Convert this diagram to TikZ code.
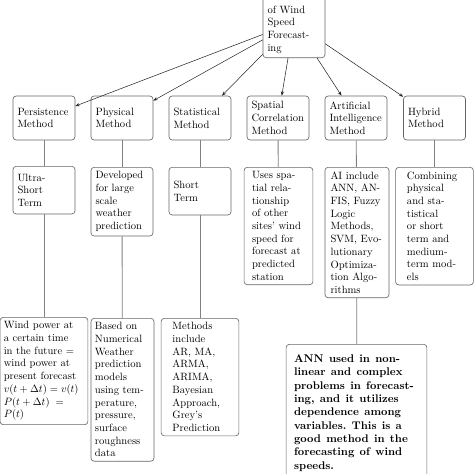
\documentclass[tikz,border=0pt]{standalone}
\usepackage{amsmath}
\usepackage{amssymb}
\usetikzlibrary{arrows.meta}

\tikzset{
  box/.style={draw=gray!80!black, rounded corners=3pt, line width=0.6pt,
    align=left, inner xsep=3pt, inner ysep=4pt, font=\normalsize},
  topbox/.style={box, text width=50pt, minimum width=58.6pt, minimum height=41.6pt},
  midbox/.style={box, text width=50pt, minimum width=58.6pt, minimum height=45pt},
  link/.style={gray, line width=0.8pt},
  arr/.style={-{Stealth[length=4pt,width=3pt]}, gray!30!black, line width=0.5pt}
}

\begin{document}
\begin{tikzpicture}[x=0.945pt,y=-0.945pt]
			\useasboundingbox (0,0) rectangle (474,474);
			\clip (0,0) rectangle (474,474);
			% root, cut off at the top
			\node[box, text width=50pt, minimum width=58.6pt, anchor=south] (root) at (294,58) {\strut\\of Wind\\Speed\\Forecast-\\ing};
			% methods
			\node[topbox] (pers) at (44,118) {Persistence\\Method};
			\node[topbox] (phys) at (122,118) {Physical\\Method};
			\node[topbox] (stat) at (200,118) {Statistical\\Method};
			\node[topbox] (spat) at (278,118) {Spatial\\Correlation\\Method};
			\node[topbox] (ai) at (356,118) {Artificial\\Intelligence\\Method};
			\node[topbox] (hyb) at (434.5,118) {Hybrid\\Method};
			\foreach \m in {pers,phys,stat,spat,ai,hyb}
				\draw[arr] (root) -- (\m);
			% descriptions
			\node[midbox, anchor=north] (ultra) at (44,166) {Ultra-\\Short\\Term};
			\node[midbox, anchor=north] (devel) at (122,167) {Developed\\for large\\scale\\weather\\prediction};
			\node[midbox, anchor=north] (short) at (200,167) {Short\\Term};
			\node[midbox, minimum width=65pt, anchor=north] (uses) at (278.5,167) {Uses spa-\\tial rela-\\tionship\\of other\\sites' wind\\speed for\\forecast at\\predicted\\station};
			\node[midbox, minimum width=60.5pt, anchor=north] (aiinc) at (357,167) {AI include\\ANN, AN-\\FIS, Fuzzy\\Logic\\Methods,\\SVM, Evo-\\lutionary\\Optimiza-\\tion Algo-\\rithms};
			\node[midbox, text width=52pt, minimum width=73.5pt, anchor=north] (comb) at (434.5,167) {Combining\\physical\\and sta-\\tistical\\or short\\term and\\medium-\\term mod-\\els};
			\draw[link] (pers) -- (ultra);
			\draw[link] (phys) -- (devel);
			\draw[link] (stat) -- (short);
			\draw[link] (spat) -- (uses);
			\draw[link] (ai) -- (aiinc);
			\draw[link] (hyb) -- (comb);
			% details
			\node[box, text width=76pt, minimum width=83pt, anchor=north] (wind) at (44,317) {Wind power at\\a certain time\\in the future =\\wind power at\\present forecast\\$v(t+\Delta t)=v(t)$\\$P(t+\Delta t)\;=$\\$P(t)$};
			\node[box, text width=52pt, minimum width=59.5pt, anchor=north] (nwp) at (122.5,318) {Based on\\Numerical\\Weather\\prediction\\models\\using tem-\\perature,\\pressure,\\surface\\roughness\\data};
			\node[box, text width=52pt, minimum width=73.5pt, anchor=north] (incl) at (200,318) {Methods\\include\\AR, MA,\\ARMA,\\ARIMA,\\Bayesian\\Approach,\\Grey's\\Prediction};
			\node[box, text width=118pt, minimum width=133pt, inner xsep=7.5pt, inner ysep=10pt, anchor=north, font=\fontsize{10.5}{12.6}\selectfont\bfseries] (ann) at (356.5,344) {\spaceskip=5pt plus 1pt\relax ANN used in non-\\linear and complex\\problems in forecast-\\ing, and it utilizes\\dependence among\\variables. This is a\\good method in the\\forecasting of wind\\speeds.};
			\draw[link] (ultra) -- (wind);
			\draw[link] (devel) -- (nwp);
			\draw[link] (short) -- (incl);
			\draw[link] (aiinc) -- (ann);
		\end{tikzpicture}
\end{document}
